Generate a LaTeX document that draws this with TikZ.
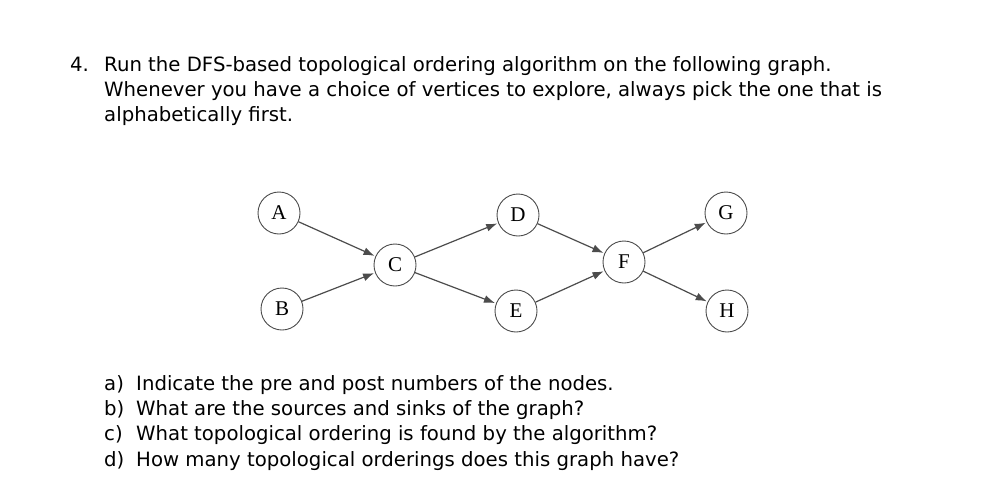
\documentclass[tikz,border=0pt]{standalone}
\usepackage{fontspec}
\setsansfont{DejaVu Sans}
\newfontfamily\vtxfont{Liberation Serif}
\usetikzlibrary{arrows.meta}
\begin{document}
\begin{tikzpicture}[x=1pt,y=-1pt,
  vtx/.style={circle,draw=black!70,line width=0.9pt,minimum size=42pt,inner sep=0pt,font=\vtxfont\fontsize{21}{21}\selectfont},
  edge/.style={draw=black!70,line width=1.2pt,-{Latex[length=11pt,width=8pt]},shorten >=1pt},
  txt/.style={anchor=base west,inner sep=0pt,font=\sffamily\fontsize{19.7}{25}\selectfont}]
\useasboundingbox[fill=white] (0,0) rectangle (993,490);
\node[txt] (n4) at (70,71) {4.};
\node[txt] (l1) at (104,71) {Run the DFS-based topological ordering algorithm on the following graph.};
\node[txt] (l2) at (104,96) {Whenever you have a choice of vertices to explore, always pick the one that is};
\node[txt] (l3) at (104,121) {alphabetically first.};
\node[vtx] (A) at (279,213) {A};
\node[vtx] (B) at (282,309) {B};
\node[vtx] (C) at (395,265) {C};
\node[vtx] (D) at (518,215) {D};
\node[vtx] (E) at (516,311) {E};
\node[vtx] (F) at (624,262) {F};
\node[vtx] (G) at (726,213) {G};
\node[vtx] (H) at (727,311) {H};
\draw[edge] (A) -- (C);
\draw[edge] (B) -- (C);
\draw[edge] (C) -- (D);
\draw[edge] (C) -- (E);
\draw[edge] (D) -- (F);
\draw[edge] (E) -- (F);
\draw[edge] (F) -- (G);
\draw[edge] (F) -- (H);
\node[txt] (qa) at (104,390) {a)};
\node[txt] (ta) at (136,390) {Indicate the pre and post numbers of the nodes.};
\node[txt] (qb) at (104,415) {b)};
\node[txt] (tb) at (136,415) {What are the sources and sinks of the graph?};
\node[txt] (qc) at (104,440) {c)};
\node[txt] (tc) at (136,440) {What topological ordering is found by the algorithm?};
\node[txt] (qd) at (104,466) {d)};
\node[txt] (td) at (136,466) {How many topological orderings does this graph have?};
\end{tikzpicture}
\end{document}
